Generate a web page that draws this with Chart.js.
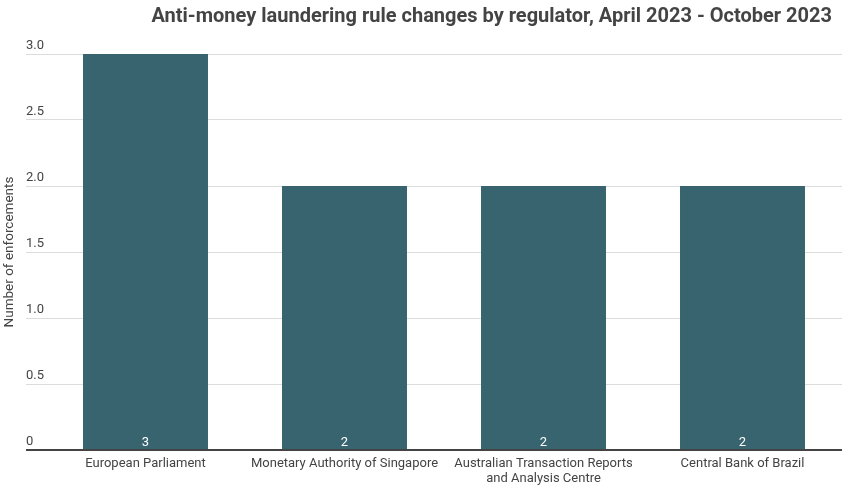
<!DOCTYPE html>
<html>
<head>
<meta charset="utf-8">
<script src="https://cdn.jsdelivr.net/npm/chart.js@4"></script>
<style>
  body { margin: 0; background: #fff; }
  #wrap { position: relative; width: 842px; height: 492px; }
  #title {
    position: absolute; top: 3px; right: 10px; line-height: 24px;
    font: bold 20px Roboto, sans-serif; color: #444; white-space: nowrap;
  }
</style>
</head>
<body>
<div id="wrap">
  <canvas id="myChart" width="842" height="492"></canvas>
  <div id="title">Anti-money laundering rule changes by regulator, April 2023 - October 2023</div>
</div>
<script>
// Chart data
const regulators = [
    'European Parliament',
    'Monetary Authority of Singapore',
    ['Australian Transaction Reports', 'and Analysis Centre'],
    'Central Bank of Brazil'
];
const enforcements = [3, 2, 2, 2];
const yTicks = [0, 0.5, 1, 1.5, 2, 2.5, 3];

// white value labels at the foot of each bar
const barValues = {
    id: 'barValues',
    afterDatasetsDraw(chart) {
        const ctx = chart.ctx;
        const meta = chart.getDatasetMeta(0);
        ctx.save();
        ctx.fillStyle = '#fff';
        ctx.font = '13px Roboto';
        ctx.textAlign = 'center';
        ctx.textBaseline = 'middle';
        meta.data.forEach((bar, i) => {
            ctx.fillText(String(enforcements[i]), bar.x, bar.base - 6);
        });
        ctx.restore();
    }
};

document.addEventListener("DOMContentLoaded", function() {
    const ctx = document.getElementById('myChart').getContext('2d');
    new Chart(ctx, {
        type: 'bar',
        data: {
            labels: regulators,
            datasets: [{
                label: 'Number of enforcements',
                data: enforcements,
                backgroundColor: '#37646f',
                barPercentage: 0.628,
                categoryPercentage: 1
            }]
        },
        options: {
            responsive: false,
            animation: false,
            layout: { padding: { top: 54, right: 0, bottom: 0, left: 0 } },
            plugins: {
                legend: { display: false },
                tooltip: { enabled: false }
            },
            scales: {
                x: {
                    grid: { display: false, drawTicks: false },
                    border: { display: false },
                    ticks: {
                        color: '#444',
                        font: { family: 'Roboto', size: 13, lineHeight: 1.18 },
                        padding: 6,
                        maxRotation: 0,
                        autoSkip: false
                    },
                    afterFit: s => { s.height = 42; }
                },
                y: {
                    min: 0,
                    max: 3,
                    afterFit: s => { s.width = 46; },
                    afterBuildTicks: s => { s.ticks = yTicks.map(v => ({ value: v })); },
                    border: { display: false },
                    grid: {
                        color: c => c.tick && c.tick.value === 0 ? '#444' : '#dcdcdc',
                        tickColor: c => c.tick && c.tick.value === 0 ? '#444' : '#dcdcdc',
                        lineWidth: c => c.tick && c.tick.value === 0 ? 2 : 1,
                        tickWidth: c => c.tick && c.tick.value === 0 ? 2 : 1,
                        tickLength: 20,
                        drawTicks: true
                    },
                    ticks: {
                        mirror: true,
                        padding: -20,
                        labelOffset: -8,
                        color: '#444',
                        font: { family: 'Roboto', size: 13 },
                        callback: v => v === 0 ? '0' : v.toFixed(1)
                    },
                    title: {
                        display: true,
                        text: 'Number of enforcements',
                        color: '#444',
                        font: { family: 'Roboto', size: 13.5 },
                        padding: { top: 2, bottom: 0 }
                    }
                }
            }
        },
        plugins: [barValues]
    });
});
</script>
</body>
</html>
